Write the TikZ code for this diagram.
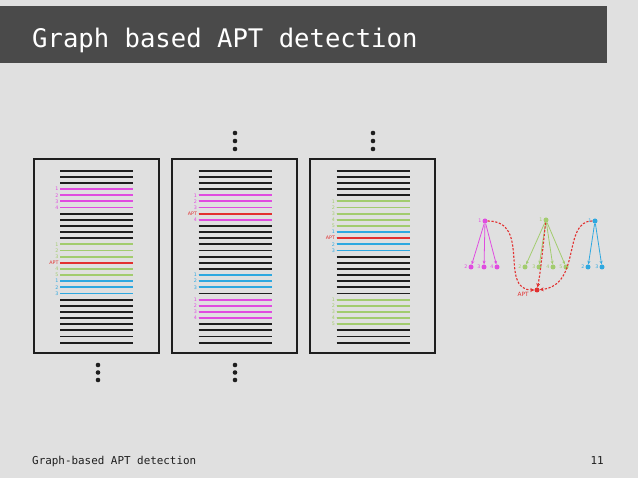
\documentclass[tikz,border=0pt]{standalone}
\usepackage{fontspec}
\setmonofont{DejaVu Sans Mono}
\setsansfont{DejaVu Sans}
\usetikzlibrary{arrows.meta}
\definecolor{bg}{HTML}{E0E0E0}
\definecolor{bar}{HTML}{4A4A4A}
\definecolor{ink}{HTML}{1E1E1E}
\definecolor{mag}{HTML}{E04CE0}
\definecolor{grn}{HTML}{A2CC6E}
\definecolor{blu}{HTML}{2EA8E0}
\definecolor{apt}{HTML}{E23030}

\begin{document}
\begin{tikzpicture}[x=1pt, y=-1pt, every node/.style={font=\ttfamily}, panel/.style={draw=ink, line width=2.4pt, minimum width=124.6pt, minimum height=193.6pt, inner sep=0pt}, row/.style={ink, line width=1.8pt}, tag/.style={font=\sffamily\fontsize{4.8}{5}\selectfont, inner sep=0.6pt}, gnode/.style={circle, fill, inner sep=0pt, minimum size=5pt}, link/.style={line width=0.8pt, -{Stealth[length=3.5pt,width=3pt]}}, attack/.style={apt, dash pattern=on 2.2pt off 1.6pt, line width=1.1pt, -{Stealth[length=4pt,width=4pt]}}]
\fill[bg] (0,0) rectangle (638,478);
\fill[bar] (0,6) rectangle (607,63);
\node[anchor=base west, inner sep=0pt, text=white, font=\ttfamily\fontsize{25.6}{30}\selectfont] (title) at (32,48) {Graph based APT detection};
\node[anchor=base west, inner sep=0pt, text=ink, font=\ttfamily\fontsize{10.9}{12}\selectfont] (footer) at (32,465) {Graph-based APT detection};
\node[anchor=base east, inner sep=0pt, text=ink, font=\ttfamily\fontsize{10.9}{12}\selectfont] (page) at (604,465) {11};
% three log windows
\node[panel] (log1) at (96.5,256) {};
\node[panel] (log2) at (234.5,256) {};
\node[panel] (log3) at (372.5,256) {};
\foreach \x in {60,198.5,336.5}
  \foreach \i in {0,...,28} \draw[row] (\x,170.7+6.14*\i) -- ++(73,0);
\foreach \i/\c/\t in {3/mag/1,4/mag/2,5/mag/3,6/mag/4,12/grn/1,13/grn/2,14/grn/3,15/apt/APT,16/grn/4,17/grn/5,18/blu/1,19/blu/2,20/blu/3}
  \draw[row,\c] (60,170.7+6.14*\i) node[tag,left,text=\c] {\t} -- ++(73,0);
\foreach \i/\c/\t in {4/mag/1,5/mag/2,6/mag/3,7/apt/APT,8/mag/4,17/blu/1,18/blu/2,19/blu/3,21/mag/1,22/mag/2,23/mag/3,24/mag/4}
  \draw[row,\c] (198.5,170.7+6.14*\i) node[tag,left,text=\c] {\t} -- ++(73,0);
\foreach \i/\c/\t in {5/grn/1,6/grn/2,7/grn/3,8/grn/4,9/grn/5,10/blu/1,11/apt/APT,12/blu/2,13/blu/3,21/grn/1,22/grn/2,23/grn/3,24/grn/4,25/grn/5}
  \draw[row,\c] (336.5,170.7+6.14*\i) node[tag,left,text=\c] {\t} -- ++(73,0);
% continuation dots
\foreach \y in {133,141,149} {\fill[ink] (235,\y) circle (2.3); \fill[ink] (373,\y) circle (2.3);}
\foreach \y in {365,372.5,380} {\fill[ink] (98,\y) circle (2.3); \fill[ink] (235,\y) circle (2.3);}
% graph view
\node[gnode,mag,label={[tag,mag]left:1}] (m1) at (485,221) {};
\node[gnode,mag,label={[tag,mag]left:2}] (m2) at (471,267) {};
\node[gnode,mag,label={[tag,mag]left:3}] (m3) at (484,267) {};
\node[gnode,mag,label={[tag,mag]left:4}] (m4) at (497,267) {};
\node[gnode,grn,label={[tag,grn]left:1}] (g1) at (546,220) {};
\node[gnode,grn,label={[tag,grn]left:2}] (g2) at (525,267) {};
\node[gnode,grn,label={[tag,grn]left:3}] (g3) at (539,267) {};
\node[gnode,grn,label={[tag,grn]left:4}] (g4) at (553,267) {};
\node[gnode,grn,label={[tag,grn]left:5}] (g5) at (566,267) {};
\node[gnode,blu,label={[tag,blu]left:1}] (b1) at (595,221) {};
\node[gnode,blu,label={[tag,blu]left:2}] (b2) at (588,267) {};
\node[gnode,blu,label={[tag,blu]left:3}] (b3) at (602,267) {};
\node[gnode,apt,label={[tag,apt,font=\sffamily\fontsize{5.8}{6}\selectfont,label distance=5pt]190:APT}] (hit) at (537,290) {};
\foreach \n in {2,3,4} \draw[link,mag] (m1) -- (m\n);
\foreach \n in {2,3,4,5} \draw[link,grn] (g1) -- (g\n);
\foreach \n in {2,3} \draw[link,blu] (b1) -- (b\n);
\draw[attack] (m1) .. controls (532,221) and (498,290) .. (hit);
\draw[attack] (g1) .. controls (543,245) and (541,270) .. (hit);
\draw[attack] (b1) .. controls (562,221) and (582,285) .. (hit);
\end{tikzpicture}
\end{document}
